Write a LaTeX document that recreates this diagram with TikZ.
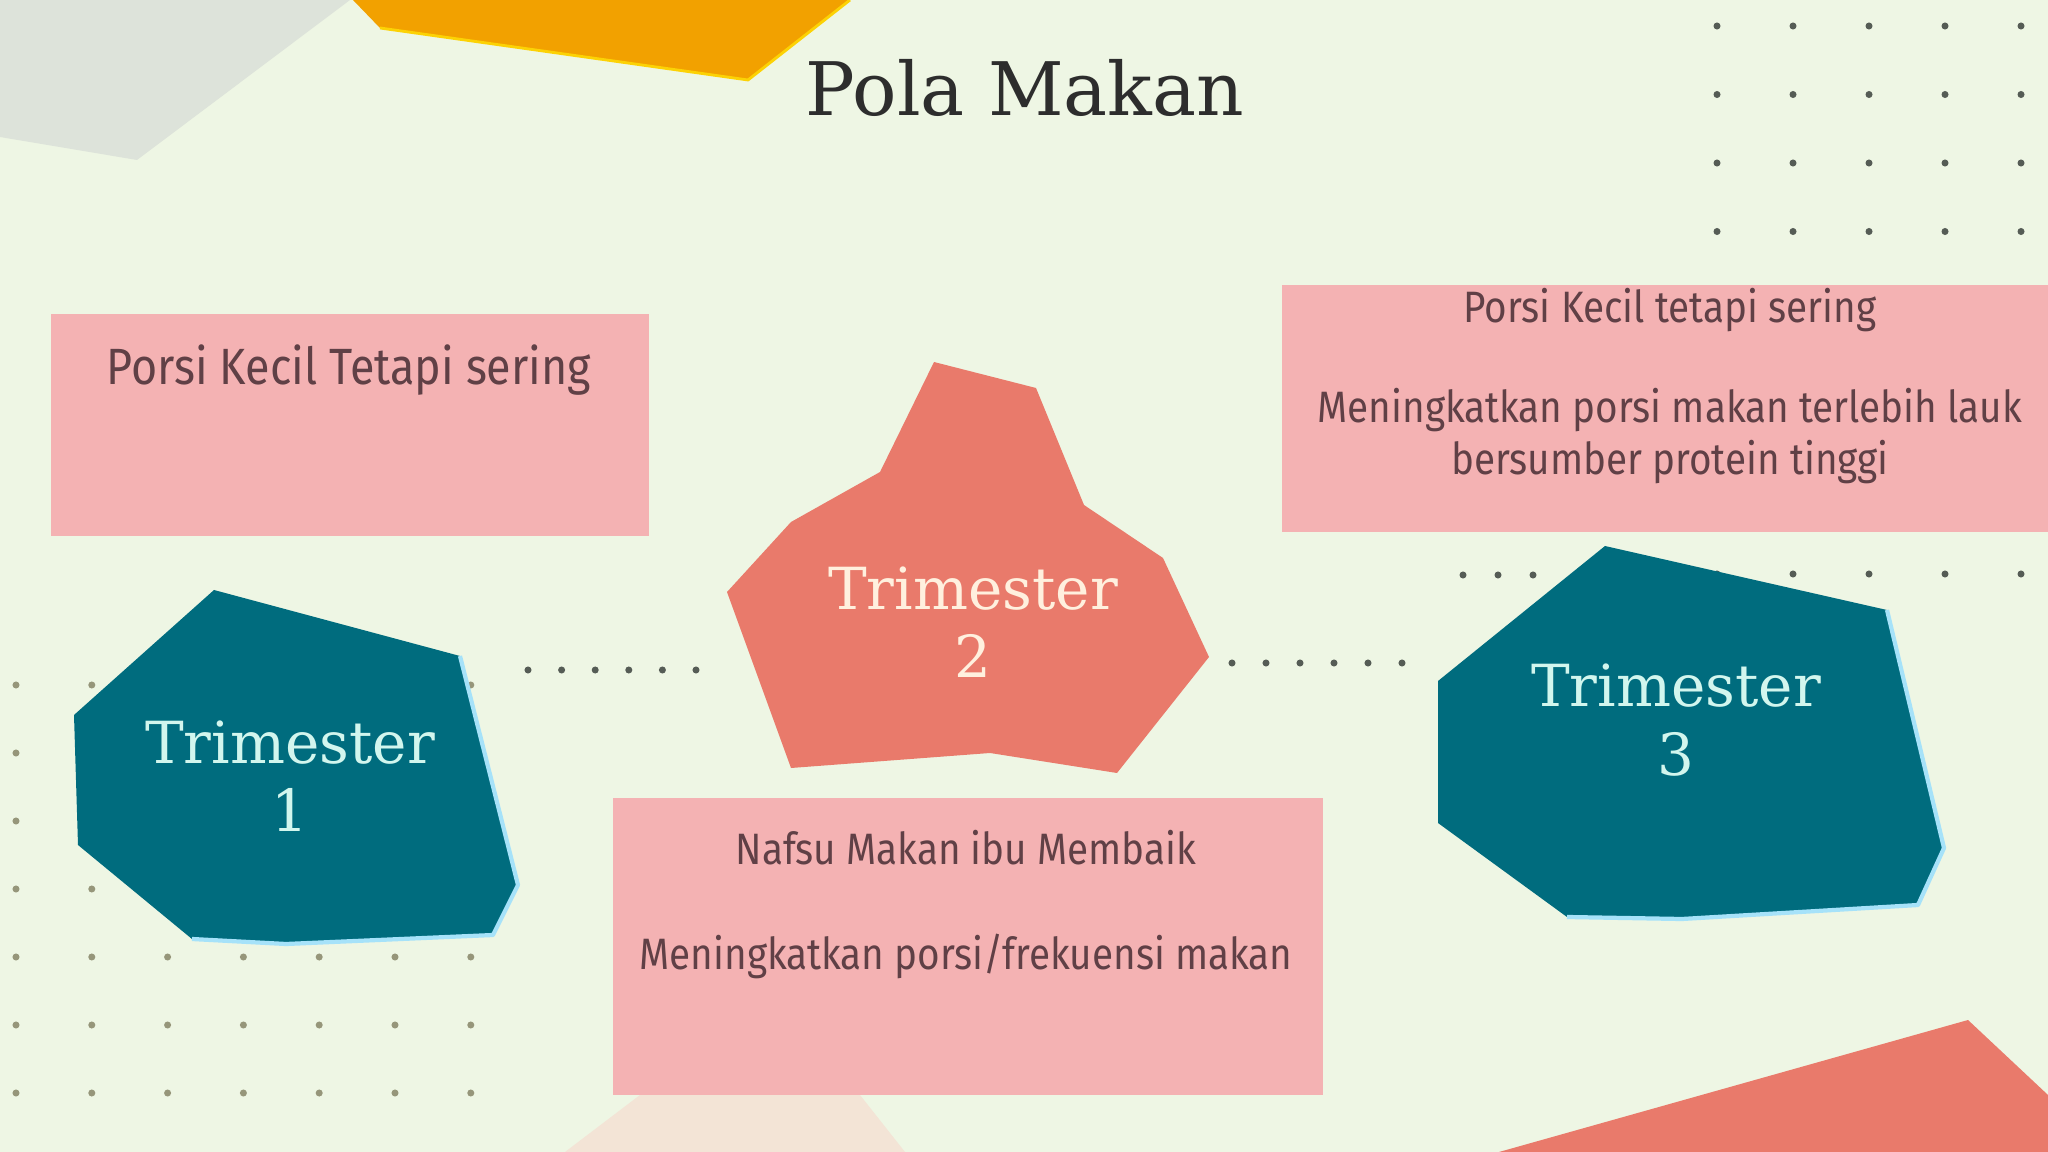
\documentclass[tikz,border=0pt]{standalone}
\usepackage{fontspec}
\usepackage{tikz}
\usetikzlibrary{calc,positioning}
\setmainfont{DejaVu Serif}
\newfontfamily\boxfont[FakeStretch=0.88]{Fira Sans}

\definecolor{bgpaper}{RGB}{238,246,228}
\definecolor{greyshape}{RGB}{221,227,218}
\definecolor{orangeshape}{RGB}{242,161,0}
\definecolor{tealshape}{RGB}{0,108,126}
\definecolor{coralshape}{RGB}{233,122,107}
\definecolor{peachshape}{RGB}{243,228,214}
\definecolor{pinkbox}{RGB}{244,178,179}
\definecolor{boxtext}{RGB}{96,64,70}
\definecolor{titletext}{RGB}{45,45,45}
\definecolor{tealtext}{RGB}{210,246,238}
\definecolor{coraltext}{RGB}{255,240,222}
\definecolor{dotgrey}{RGB}{85,92,85}
\definecolor{dotolive}{RGB}{150,150,122}

\tikzset{
    infobox/.style={fill=pinkbox, inner sep=0pt, anchor=north west},
    infotext/.style={text=boxtext, inner sep=0pt, font=\boxfont\fontsize{12.5}{15}\selectfont},
    trilabel/.style={align=center, inner sep=0pt, font=\fontsize{16.5}{19.5}\selectfont},
    glow/.style={draw=cyan!35, line width=1.2pt, line join=round}
}

\begin{document}
\begin{tikzpicture}[x=0.01cm,y=-0.01cm]
\useasboundingbox (0,0) rectangle (2048,1152);
\fill[bgpaper] (0,0) rectangle (2048,1152);

% corner shapes
\fill[greyshape] (0,0) -- (350,0) -- (137,160) -- (0,137) -- cycle;
\fill[orangeshape] (353,0) -- (380,28) -- (748,80) -- (850,0) -- cycle;
\draw[yellow!70!orange, line width=0.8pt] (380,28) -- (748,80) -- (850,0);
\fill[coralshape] (1499,1152) -- (1968,1020) -- (2048,1095) -- (2048,1152) -- cycle;
\fill[peachshape] (565,1152) -- (640,1095) -- (860,1095) -- (905,1152) -- cycle;

% dot grids
\foreach \i in {0,...,4}
    \foreach \j in {0,...,8}
        \fill[dotgrey] ({1717+76*\i},{26+68.5*\j}) circle[radius=1pt];
\foreach \i in {0,...,6}
    \foreach \j in {0,...,6}
        \fill[dotolive] ({16+75.8*\i},{685+68*\j}) circle[radius=1pt];
\foreach \k in {0,...,5} {
    \fill[dotgrey] ({528+33.6*\k},670) circle[radius=1pt];
    \fill[dotgrey] ({1232+34*\k},663) circle[radius=1pt];
}
\foreach \x in {1463,1498,1533}
    \fill[dotgrey] (\x,575) circle[radius=1pt];

\node[text=titletext, font=\fontsize{21}{25}\selectfont] (title) at (1025,88) {Pola Makan};

% trimester shapes
\fill[tealshape] (214,590) -- (460,656) -- (518,885) -- (493,935) -- (286,944) -- (192,939) -- (78,845) -- (74,715) -- cycle;
\draw[glow] (460,656) -- (518,885) -- (493,935) -- (286,944) -- (192,939);
\node[trilabel, text=tealtext] (tri1) at (290,776) {Trimester\\1};

\fill[coralshape] (934,362) -- (1036,388) -- (1084,505) -- (1163,558) -- (1209,657) -- (1117,773) -- (990,753) -- (791,768) -- (727,592) -- (791,522) -- (880,472) -- cycle;
\node[trilabel, text=coraltext] (tri2) at (973,622) {Trimester\\2};

\fill[tealshape] (1605,546) -- (1887,610) -- (1944,848) -- (1918,905) -- (1682,919) -- (1567,917) -- (1438,823) -- (1438,681) -- cycle;
\draw[glow] (1887,610) -- (1944,848) -- (1918,905) -- (1682,919) -- (1567,917);
\node[trilabel, text=tealtext] (tri3) at (1676,720) {Trimester\\3};

% pink boxes
\node[infobox, minimum width=5.98cm, minimum height=2.22cm] (box1) at (50,313) {};
\node[infotext, font=\boxfont\fontsize{14.5}{17}\selectfont] (txt1) at (349,370) {Porsi Kecil Tetapi sering};

\node[infobox, minimum width=7.7cm, minimum height=2.47cm] (box3) at (1281,284) {};
\node[infotext] (txt3a) at (1670,310) {Porsi Kecil tetapi sering};
\node[infotext] (txt3b) at (1670,410) {Meningkatkan porsi makan terlebih lauk};
\node[infotext] (txt3c) at (1670,462) {bersumber protein tinggi};

\node[infobox, minimum width=7.1cm, minimum height=2.97cm] (box2) at (612,797) {};
\node[infotext] (txt2a) at (966,848) {Nafsu Makan ibu Membaik};
\node[infotext] (txt2b) at (966,956) {Meningkatkan porsi/frekuensi makan};
\end{tikzpicture}
\end{document}
